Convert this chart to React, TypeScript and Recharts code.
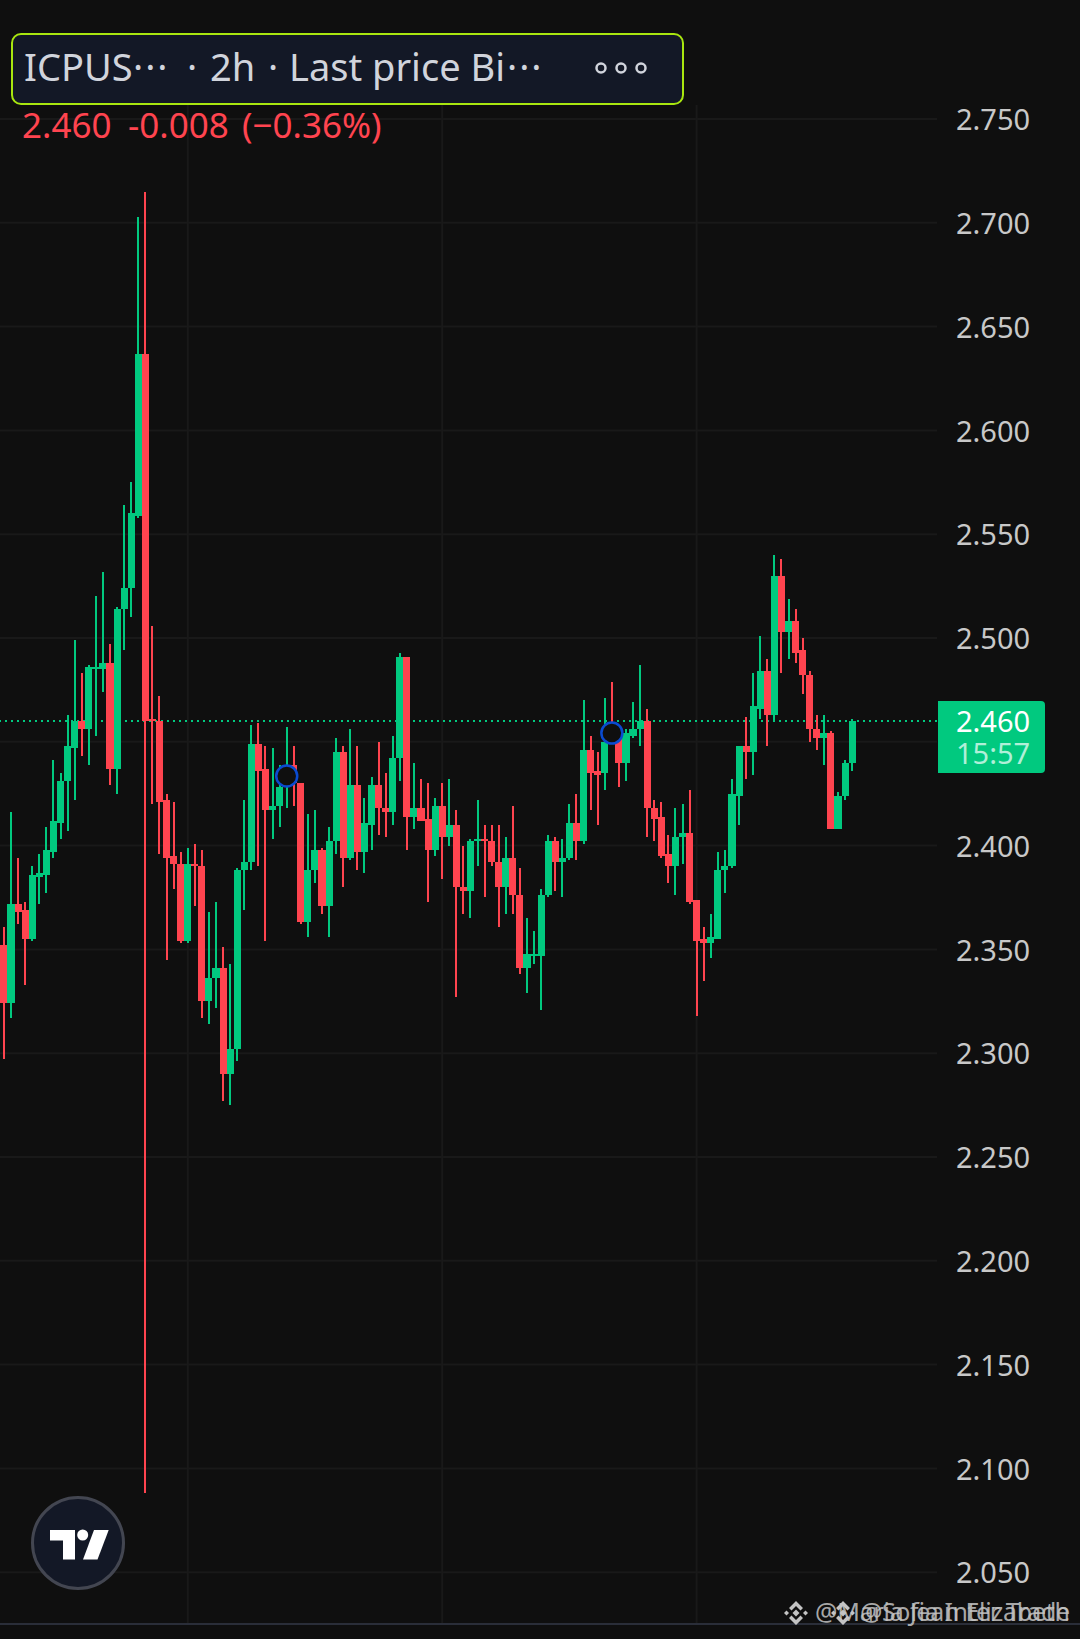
import React from 'react';
import { ComposedChart, Bar, XAxis, YAxis, CartesianGrid, ReferenceLine, ReferenceDot } from 'recharts';

const opens = [
  2.352, 2.324, 2.372, 2.369, 2.355, 2.385, 2.386, 2.397, 2.411, 2.431, 2.447,
  2.46, 2.456, 2.485, 2.485, 2.488, 2.437, 2.514, 2.524, 2.559, 2.637, 2.461,
  2.46, 2.422, 2.395, 2.391, 2.354, 2.391, 2.39, 2.325, 2.336, 2.341, 2.29,
  2.302, 2.388, 2.392, 2.449, 2.437, 2.417, 2.419, 2.43, 2.439, 2.43, 2.363,
  2.388, 2.398, 2.371, 2.402, 2.445, 2.394, 2.429, 2.397, 2.41, 2.429, 2.418,
  2.416, 2.442, 2.491, 2.414, 2.418, 2.413, 2.398, 2.419, 2.404, 2.41, 2.38,
  2.378, 2.402, 2.403, 2.402, 2.392, 2.38, 2.394, 2.376, 2.341, 2.347, 2.347,
  2.376, 2.402, 2.392, 2.394, 2.411, 2.402, 2.446, 2.436, 2.435, 2.457, 2.452,
  2.44, 2.453, 2.456, 2.46, 2.418, 2.414, 2.396, 2.39, 2.404, 2.406, 2.374,
  2.355, 2.353, 2.355, 2.388, 2.39, 2.424, 2.448, 2.445, 2.466, 2.484, 2.463,
  2.53, 2.503, 2.508, 2.494, 2.482, 2.456, 2.452, 2.454, 2.408, 2.424, 2.44,
];
const highs = [
  2.361, 2.416, 2.394, 2.373, 2.39, 2.396, 2.409, 2.441, 2.435, 2.463, 2.499,
  2.483, 2.487, 2.52, 2.532, 2.497, 2.515, 2.564, 2.575, 2.703, 2.715, 2.506,
  2.472, 2.425, 2.421, 2.397, 2.399, 2.401, 2.398, 2.368, 2.373, 2.351, 2.343,
  2.389, 2.422, 2.458, 2.459, 2.448, 2.447, 2.439, 2.457, 2.448, 2.43, 2.415,
  2.417, 2.399, 2.409, 2.452, 2.448, 2.456, 2.448, 2.423, 2.433, 2.45, 2.435,
  2.453, 2.493, 2.491, 2.44, 2.432, 2.43, 2.423, 2.43, 2.432, 2.417, 2.4,
  2.403, 2.422, 2.41, 2.41, 2.41, 2.404, 2.419, 2.389, 2.365, 2.359, 2.379,
  2.405, 2.404, 2.403, 2.42, 2.425, 2.47, 2.453, 2.445, 2.471, 2.479, 2.452,
  2.456, 2.469, 2.487, 2.466, 2.422, 2.421, 2.405, 2.418, 2.42, 2.427, 2.374,
  2.361, 2.367, 2.397, 2.398, 2.432, 2.448, 2.462, 2.483, 2.501, 2.49, 2.54,
  2.538, 2.519, 2.514, 2.5, 2.484, 2.463, 2.463, 2.455, 2.426, 2.441, 2.461,
];
const lows = [
  2.297, 2.317, 2.362, 2.333, 2.354, 2.372, 2.377, 2.394, 2.403, 2.407, 2.422,
  2.443, 2.439, 2.453, 2.474, 2.429, 2.425, 2.494, 2.51, 2.558, 2.088, 2.42,
  2.396, 2.345, 2.379, 2.353, 2.353, 2.371, 2.317, 2.314, 2.322, 2.277, 2.275,
  2.296, 2.369, 2.388, 2.39, 2.354, 2.403, 2.409, 2.418, 2.419, 2.362, 2.356,
  2.382, 2.367, 2.356, 2.396, 2.38, 2.393, 2.388, 2.387, 2.398, 2.405, 2.404,
  2.41, 2.431, 2.398, 2.408, 2.412, 2.373, 2.395, 2.384, 2.4, 2.327, 2.367,
  2.365, 2.39, 2.375, 2.39, 2.361, 2.367, 2.367, 2.338, 2.329, 2.343, 2.321,
  2.375, 2.378, 2.375, 2.393, 2.393, 2.401, 2.417, 2.41, 2.427, 2.451, 2.428,
  2.431, 2.452, 2.448, 2.404, 2.402, 2.394, 2.382, 2.376, 2.391, 2.372, 2.318,
  2.335, 2.346, 2.355, 2.377, 2.389, 2.41, 2.432, 2.434, 2.461, 2.448, 2.46,
  2.483, 2.49, 2.488, 2.473, 2.45, 2.446, 2.439, 2.408, 2.408, 2.422, 2.436,
];
const closes = [
  2.324, 2.372, 2.368, 2.355, 2.386, 2.387, 2.398, 2.412, 2.431, 2.448, 2.46,
  2.456, 2.486, 2.486, 2.488, 2.437, 2.514, 2.524, 2.56, 2.637, 2.46, 2.46,
  2.421, 2.394, 2.391, 2.354, 2.391, 2.39, 2.325, 2.336, 2.341, 2.29, 2.302,
  2.388, 2.392, 2.449, 2.436, 2.417, 2.419, 2.428, 2.438, 2.43, 2.363, 2.388,
  2.398, 2.371, 2.402, 2.445, 2.394, 2.429, 2.397, 2.411, 2.429, 2.418, 2.416,
  2.442, 2.491, 2.414, 2.418, 2.412, 2.398, 2.419, 2.404, 2.41, 2.38, 2.378,
  2.402, 2.403, 2.402, 2.392, 2.38, 2.394, 2.376, 2.341, 2.348, 2.348, 2.376,
  2.402, 2.392, 2.394, 2.411, 2.402, 2.446, 2.435, 2.434, 2.45, 2.452, 2.44,
  2.454, 2.456, 2.46, 2.418, 2.413, 2.395, 2.39, 2.404, 2.406, 2.373, 2.354,
  2.353, 2.356, 2.388, 2.39, 2.425, 2.448, 2.445, 2.467, 2.484, 2.463, 2.53,
  2.503, 2.508, 2.493, 2.482, 2.456, 2.452, 2.454, 2.408, 2.424, 2.44, 2.46,
];

const priceTicks = [2.05, 2.1, 2.15, 2.2, 2.25, 2.3, 2.35, 2.4, 2.45, 2.5, 2.55, 2.6, 2.65, 2.7, 2.75];
const timeTicks = [26, 62, 98];
const lastPrice = 2.46;
const coveredTick = 2.45; // sits under the last price tag, gridline only
const markerIndexes = [40, 86];
const markerPrices = [2.4335, 2.4542];

const GREEN = '#01c97f';
const RED = '#ff444f';
const BG = '#0f0f0f';
const GRID = '#191919';

const chartData = opens.map((open, i) => ({
  index: i,
  open,
  high: highs[i],
  low: lows[i],
  close: closes[i],
  range: [lows[i], highs[i]],
}));

// body and wick both come from the bar's own low-high box
const Candle = (props: any) => {
  const { x, y, width, height, payload } = props;
  const perUnit = height / (payload.high - payload.low);
  const center = x + width / 2;
  const cx = Math.round(center);
  const left = Math.round(center - 3.535);
  const right = Math.round(center + 3.535);
  const top = y + (payload.high - Math.max(payload.open, payload.close)) * perUnit;
  const bottom = y + (payload.high - Math.min(payload.open, payload.close)) * perUnit;
  const fill = payload.close >= payload.open ? GREEN : RED;
  return (
    <g shapeRendering="crispEdges">
      <rect x={cx - 1} y={y} width={2} height={height} fill={fill} />
      <rect x={left} y={top} width={right - left} height={Math.max(bottom - top, 2)} fill={fill} />
    </g>
  );
};

const Diamond = ({ x, y }: { x: number; y: number }) => (
  <g transform={`translate(${x} ${y})`} fill="#c4c4c4">
    <polygon points="0,-3.5 3.5,0 0,3.5 -3.5,0" />
    <polygon points="-9.5,-2.5 -7,0 -9.5,2.5 -12,0" />
    <polygon points="9.5,-2.5 12,0 9.5,2.5 7,0" />
    <polygon points="0,-12 7,-5 4.5,-2.5 0,-7 -4.5,-2.5 -7,-5" />
    <polygon points="0,12 7,5 4.5,2.5 0,7 -4.5,2.5 -7,5" />
  </g>
);

const Overlay = () => (
  <svg width={1080} height={1639} style={{ position: 'absolute', left: 0, top: 0, fontFamily: '"Noto Sans", sans-serif' }}>
    <rect x={12} y={34} width={671} height={70} rx={9} fill="#131826" stroke="#a8e60f" strokeWidth={2} />
    <g fontSize={38} fill="#d1d4dc">
      <text x={24} y={81}>ICPUS</text>
      <text x={133} y={81} letterSpacing={2}>···</text>
      <text x={187} y={81}>·</text>
      <text x={210} y={81}>2h</text>
      <text x={268} y={81}>·</text>
      <text x={289} y={81}>Last price Bi</text>
      <text x={507} y={81} letterSpacing={2}>···</text>
    </g>
    <g fill="none" stroke="#d1d4dc" strokeWidth={2.5}>
      <circle cx={601} cy={68} r={4.5} />
      <circle cx={621} cy={68} r={4.5} />
      <circle cx={641} cy={68} r={4.5} />
    </g>
    <g fontSize={35} fill={RED}>
      <text x={22} y={138}>2.460</text>
      <text x={128} y={138}>-0.008</text>
      <text x={242} y={138}>(−0.36%)</text>
    </g>

    <path d="M938 701 H1041 Q1045 701 1045 705 V769 Q1045 773 1041 773 H938 Z" fill={GREEN} />
    <text x={956} y={732} fontSize={29} fill="#ffffff">2.460</text>
    <text x={956} y={764} fontSize={29} fill="#b0efd8">15:57</text>

    <circle cx={78} cy={1543} r={45.5} fill="#131826" stroke="#434651" strokeWidth={3} />
    <polygon points="50,1530 75,1530 75,1559.5 63,1559.5 63,1540.5 50,1540.5" fill="#ffffff" />
    <circle cx={82.7} cy={1535} r={5.5} fill="#ffffff" />
    <polygon points="94,1530 108.7,1530 97.5,1559.5 83,1559.5" fill="#ffffff" />

    <rect x={0} y={1623} width={1080} height={2} fill="#2a2e39" />
    <Diamond x={796} y={1613} />
    <Diamond x={843} y={1613} />
    <g fontSize={25} fill="#c4c4c4" fillOpacity={0.85}>
      <text x={815} y={1621} textLength={255}>@Maria Jean Elizabeth</text>
      <text x={860} y={1621} textLength={210}>@Sofia Inter Trade</text>
    </g>
  </svg>
);

export default function App() {
  return (
    <div style={{ position: 'absolute', left: 0, top: 0, width: 1080, height: 1639, background: BG, overflow: 'hidden' }}>
      <ComposedChart
        width={1080}
        height={1639}
        data={chartData}
        margin={{ top: 105, right: 0, bottom: 15, left: 0 }}
      >
        <CartesianGrid stroke={GRID} strokeWidth={2} vertical={false} horizontalValues={priceTicks} />
        <XAxis
          dataKey="index"
          type="number"
          scale="linear"
          domain={[-0.566, 132]}
          ticks={timeTicks}
          tick={false}
          tickLine={false}
          axisLine={false}
          height={0}
        />
        <YAxis
          orientation="right"
          type="number"
          domain={[2.02504, 2.75674]}
          ticks={priceTicks}
          interval={0}
          width={143}
          axisLine={false}
          tickLine={false}
          tickSize={0}
          tickMargin={19}
          tickFormatter={(v: number) => (v === coveredTick ? '' : v.toFixed(3))}
          tick={{ fill: '#c8c8c8', fontSize: 29, dy: 1, fontFamily: '"Noto Sans", sans-serif' }}
        />
        {timeTicks.map((t) => (
          <ReferenceLine key={t} x={t} stroke={GRID} strokeWidth={2} zIndex={200} />
        ))}
        <ReferenceLine y={lastPrice} stroke={GREEN} strokeWidth={2} strokeDasharray="2 4" zIndex={200} />
        <Bar dataKey="range" barSize={7} shape={Candle} isAnimationActive={false} zIndex={300} />
        {markerIndexes.map((idx, i) => (
          <ReferenceDot key={idx} x={idx} y={markerPrices[i]} r={10.5} fill={BG} stroke="#0a4bd1" strokeWidth={2.5} zIndex={400} />
        ))}
      </ComposedChart>
      <Overlay />
    </div>
  );
}
